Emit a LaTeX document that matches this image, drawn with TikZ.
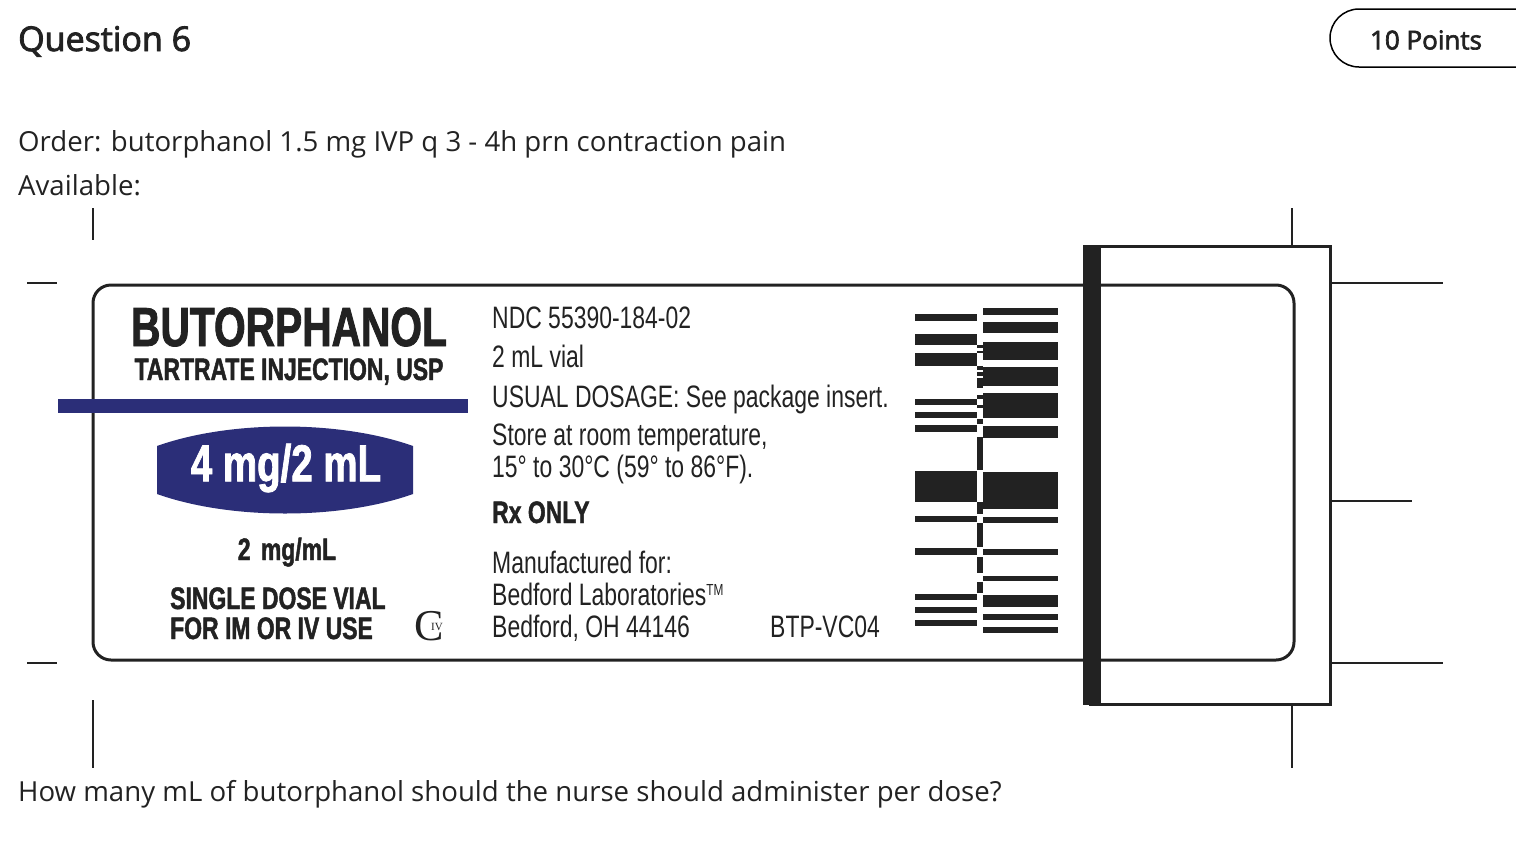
\documentclass[tikz,border=0pt]{standalone}
\usepackage{fontspec}
\setmainfont{Open Sans}
\newfontfamily\semib[FakeBold=2.5]{Open Sans}
\newfontfamily\cond[FakeStretch=0.74]{Liberation Sans}
\newfontfamily\condb[FakeStretch=0.74,FakeBold=1.5]{Liberation Sans Bold}
\newfontfamily\serifc{Liberation Serif}
\definecolor{navy}{HTML}{2B2E78}
\definecolor{ink}{HTML}{222222}
\begin{document}
\begin{tikzpicture}[x=1pt,y=-1pt,
  ui/.style={anchor=base west,inner sep=0,font=\fontsize{27.6}{32}\selectfont,text=ink},
  lab/.style={anchor=base west,inner sep=0,font=\cond\fontsize{31}{34}\selectfont,text=ink},
  labb/.style={anchor=base west,inner sep=0,font=\condb\fontsize{31}{34}\selectfont,text=ink},
  crop/.style={line width=1.6pt,draw=ink},
  bar/.style={fill=ink}]
\useasboundingbox (0,0) rectangle (1516,844);
% header
\node[anchor=base west,inner sep=0,font=\semib\fontsize{34}{38}\selectfont,text=ink] (q) at (18,51) {Question 6};
\draw[line width=1.5pt,rounded corners=29pt] (1540,9) -- (1330,9) -- (1330,67) -- (1540,67);
\node[inner sep=0,font=\semib\fontsize{26}{30}\selectfont,text=ink] (pts) at (1426,40) {10 Points};
\node[ui] (order) at (18,151) {Order: butorphanol 1.5 mg IVP q 3 - 4h prn contraction pain};
\node[ui] (avail) at (18,195) {Available:};
\node[ui] (ask) at (18,801) {How many mL of butorphanol should the nurse should administer per dose?};
% crop marks
\draw[crop] (93,208) -- (93,240);
\draw[crop] (27,283) -- (57,283);
\draw[crop] (27,663) -- (57,663);
\draw[crop] (93,700) -- (93,768);
\draw[crop] (1292,208) -- (1292,245);
\draw[crop] (1292,705) -- (1292,768);
\draw[crop] (1330,283) -- (1443,283);
\draw[crop] (1330,663) -- (1443,663);
\draw[crop] (1330,501) -- (1412,501);
% label frame
\draw[line width=3pt,draw=ink,rounded corners=18pt] (93,285) rectangle (1294,660);
\draw[line width=3pt,draw=ink] (1090,246) rectangle (1330,704);
\fill[ink] (1083,245) rectangle (1101,705);
% blue bar and badge
\fill[navy] (58,399) rectangle (468,413);
\fill[navy] (157,446) .. controls (230,420) and (340,420) .. (413,446) -- (413,494) .. controls (340,520) and (230,520) .. (157,494) -- cycle;
\node[inner sep=0,font=\condb\fontsize{52}{56}\selectfont,text=white] (dose) at (286,468) {4 mg/2 mL};
% left texts
\node[inner sep=0,anchor=base,font=\condb\fontsize{55}{58}\selectfont,text=ink] (name) at (289,346) {BUTORPHANOL};
\node[inner sep=0,anchor=base,font=\condb\fontsize{31}{34}\selectfont,text=ink] (tart) at (289,380) {TARTRATE INJECTION, USP};
\node[inner sep=0,anchor=base,font=\condb\fontsize{31}{34}\selectfont,text=ink] (conc) at (287,560) {2\,\,mg/mL};
\node[labb] (sdv) at (170,609) {SINGLE DOSE VIAL};
\node[labb] (imiv) at (170,639) {FOR IM OR IV USE};
\node[inner sep=0,anchor=base west,font=\serifc\fontsize{44}{44}\selectfont,text=ink] (cc) at (414,640) {C};
\node[inner sep=0,font=\serifc\fontsize{11}{11}\selectfont,text=ink] (civ) at (437,627) {IV};
% right texts
\node[lab] (ndc) at (492,328) {NDC 55390-184-02};
\node[lab] (vial) at (492,367) {2 mL vial};
\node[lab] (usual) at (492,407) {USUAL DOSAGE: See package insert.};
\node[lab] (store) at (492,445) {Store at room temperature,};
\node[lab] (temp) at (492,477) {15\textdegree\ to 30\textdegree C (59\textdegree\ to 86\textdegree F).};
\node[labb] (rx) at (492,523) {Rx ONLY};
\node[lab] (mfg) at (492,573) {Manufactured for:};
\node[lab] (bed) at (492,605) {Bedford Laboratories\textsuperscript{\fontsize{16}{16}\selectfont TM}};
\node[lab] (city) at (492,637) {Bedford, OH 44146};
\node[lab] (btp) at (770,637) {BTP-VC04};
% barcode
\foreach \a/\b in {314/321,334/345,353/366,399/405,412/418,425/432,471/502,516/522,548/555,594/600,607/613,620/626}
  \fill[bar] (915,\a) rectangle (977,\b);
\foreach \a/\b in {308/315,322/333,342/360,367/386,393/418,426/438,472/509,517/523,549/555,576/581,595/607,614/620,627/633}
  \fill[bar] (983,\a) rectangle (1058,\b);
\foreach \a/\b in {345/348,351/353,366/370,372/376,378/388,395/399,405/408,419/424,437/470,502/514,523/547,557/573,582/593}
  \fill[bar] (977,\a) rectangle (983,\b);
\end{tikzpicture}
\end{document}
